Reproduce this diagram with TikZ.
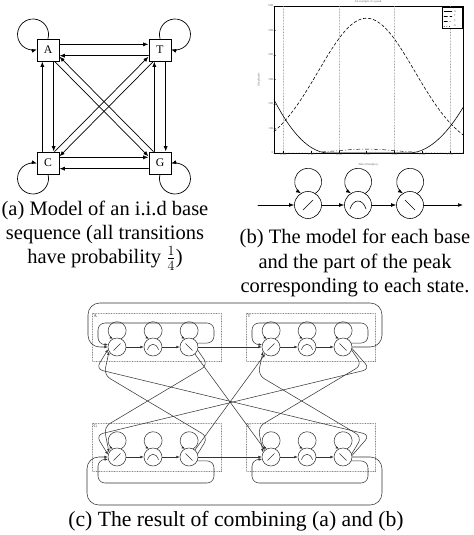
\documentclass[tikz,border=0pt]{standalone}
\usepackage{fontspec}
\setmainfont{Liberation Serif}
\usetikzlibrary{arrows.meta}

\begin{document}
\begin{tikzpicture}
  [x=0.3mm,y=0.3mm,line cap=round,
   basebox/.style={draw,thick,minimum size=6.6mm,inner sep=0pt,font=\fontsize{10}{12}\selectfont},
   link/.style={-{Latex[length=1.6mm,width=1.2mm]},line width=0.6pt},
   bigstate/.style={draw,circle,minimum size=8.1mm,inner sep=0pt,line width=0.5pt},
   smallstate/.style={draw,circle,minimum size=5.4mm,inner sep=0pt,line width=0.45pt,black!80},
   rise/.style={path picture={\draw ([shift={(-#1,-#1)}]path picture bounding box.center)
       -- ([shift={(#1,#1)}]path picture bounding box.center);}},
   fall/.style={path picture={\draw ([shift={(-#1,#1)}]path picture bounding box.center)
       -- ([shift={(#1,-#1)}]path picture bounding box.center);}},
   hump/.style={path picture={\draw ([shift={(-#1,-0.5*#1)}]path picture bounding box.center)
       .. controls ([shift={(-0.6*#1,0.83*#1)}]path picture bounding box.center)
       and ([shift={(0.6*#1,0.83*#1)}]path picture bounding box.center)
       .. ([shift={(#1,-0.5*#1)}]path picture bounding box.center);}},
   bigarrow/.style={-{Latex[length=1.5mm,width=1.1mm]},line width=0.5pt},
   hmmarrow/.style={-{Latex[length=1mm,width=0.8mm]},line width=0.45pt,black!80},
   groupbox/.style={densely dotted,black!50,line width=0.4pt},
   boxlabel/.style={font=\fontsize{4}{4}\selectfont,inner sep=1.2pt,black!80},
   plottext/.style={font=\fontsize{2.6}{3}\selectfont,inner sep=0.6pt,black!60},
   caption/.style={align=center,font=\fontsize{17.5}{20.5}\selectfont,inner sep=0pt}]
  \useasboundingbox (0,0) rectangle (474,535);

  % (a) las cuatro bases
  \node[basebox] (A) at (48,485) {A};
  \node[basebox] (T) at (160,485) {T};
  \node[basebox] (C) at (48,372) {C};
  \node[basebox] (G) at (160,372) {G};

  % transiciones en pares
  \draw[link] ([yshift=1.7mm]A.east) -- ([yshift=1.7mm]T.west);
  \draw[link] ([yshift=-1.7mm]T.west) -- ([yshift=-1.7mm]A.east);
  \draw[link] ([yshift=1.7mm]C.east) -- ([yshift=1.7mm]G.west);
  \draw[link] ([yshift=-1.7mm]G.west) -- ([yshift=-1.7mm]C.east);
  \draw[link] ([xshift=-1.7mm]C.north) -- ([xshift=-1.7mm]A.south);
  \draw[link] ([xshift=1.7mm]A.south) -- ([xshift=1.7mm]C.north);
  \draw[link] ([xshift=-1.7mm]G.north) -- ([xshift=-1.7mm]T.south);
  \draw[link] ([xshift=1.7mm]T.south) -- ([xshift=1.7mm]G.north);
  \draw[link] (A.-60) -- (G.150);
  \draw[link] (G.120) -- (A.-30);
  \draw[link] (C.60) -- (T.210);
  \draw[link] (T.240) -- (C.30);

  % bucles
  \draw[link] (A.north) arc[start angle=-15,end angle=285,radius=15.5];
  \draw[link] (T.north) arc[start angle=195,end angle=-105,radius=15.5];
  \draw[link] (C.south) arc[start angle=15,end angle=-285,radius=15.5];
  \draw[link] (G.south) arc[start angle=165,end angle=465,radius=15.5];

  \node[caption] (capa) at (105,299) {(a) Model of an i.i.d base\\sequence (all transitions\\have probability $\frac{1}{4}$)};

  % (b) el pico
  \draw[line width=0.4pt] (274,382) rectangle (463,529);
  \node[plottext] at (368,533) {An example of a peak};
  \node[plottext,rotate=90] at (259,455) {Amplitude};
  \node[plottext] at (368,370) {Time (Samples)};
  \begin{scope}[shift={(283,382)},xscale=13.92,yscale=0.245]
    \foreach \s in {0,4,8,12}
      \draw[densely dotted,black!40,line width=0.3pt] (\s,0) -- (\s,600);
    \foreach \s/\lab in {0/1720,2/1722,4/1724,6/1726,8/1728,10/1730,12/1732} {
      \draw[line width=0.3pt] (\s,0) -- (\s,8);
      \node[plottext,below] at (\s,0) {\lab};
    }
    \foreach \v in {0,100,...,600} {
      \draw[line width=0.3pt] (-0.647,\v) -- (-0.55,\v);
      \node[plottext,left] at (-0.647,\v) {\v};
    }
    \draw[line width=0.5pt,dash pattern=on 2.5pt off 1.8pt,domain=-0.647:12.93,samples=90]
      plot (\x,{550*exp(-(\x-6)*(\x-6)/24)});
    \draw[line width=0.5pt,domain=-0.647:12.93,samples=90]
      plot (\x,{14*max(0,3.3-\x)*max(0,3.3-\x)+12*max(0,\x-9)*max(0,\x-9)});
    \draw[line width=0.4pt,dash dot,domain=2.8:9.5,samples=40]
      plot (\x,{16*exp(-(\x-6)*(\x-6)/8)});
    \draw[line width=0.4pt,dotted,black!50,domain=-0.647:12.93,samples=40]
      plot (\x,{4*exp(-(\x-7)*(\x-7)/12)});
  \end{scope}
  \draw[line width=0.3pt,fill=white] (442,507) rectangle (462,528);
  \draw[line width=0.3pt] (444,524) -- (452,524); \node[plottext,right] at (453,524) {A};
  \draw[line width=0.3pt,densely dashed] (444,519) -- (452,519); \node[plottext,right] at (453,519) {T};
  \draw[line width=0.3pt,dash dot] (444,514) -- (452,514); \node[plottext,right] at (453,514) {C};
  \draw[line width=0.3pt,dotted] (444,509) -- (452,509); \node[plottext,right] at (453,509) {G};

  % estados de una base
  \node[bigstate,rise=5] (b1) at (308,330) {};
  \node[bigstate,hump=8] (b2) at (358,330) {};
  \node[bigstate,fall=5] (b3) at (410,330) {};
  \coordinate (bin) at (258,330);
  \coordinate (bout) at (463,330);
  \draw[bigarrow] (bin) -- (b1);
  \draw[bigarrow] (b1) -- (b2);
  \draw[bigarrow] (b2) -- (b3);
  \draw[bigarrow] (b3) -- (bout);
  \foreach \n in {b1,b2,b3}
    \draw[bigarrow] (\n.58) arc[start angle=-58,end angle=238,radius=13.5];

  \node[caption] (capb) at (355,272) {(b) The model for each base\\and the part of the peak\\corresponding to each state.};

  % (c) modelo combinado
  \foreach \g/\x/\y in {A/117/188,T/271/188,G/117/78,C/271/78} {
    \draw[groupbox] (\x-25,\y-14) rectangle (\x+104,\y+34);
    \node[boxlabel,anchor=north west] at (\x-25,\y+34) {\g};
    \node[smallstate,rise=3.5] (\g1) at (\x,\y) {};
    \node[smallstate,hump=5.5] (\g2) at (\x+36,\y) {};
    \node[smallstate,fall=3.5] (\g3) at (\x+72,\y) {};
    \draw[hmmarrow] (\g1) -- (\g2);
    \draw[hmmarrow] (\g2) -- (\g3);
    \foreach \n in {1,2,3}
      \draw[hmmarrow] (\g\n.63) arc[start angle=-63,end angle=243,radius=9];
  }

  % transiciones entre bases
  \draw[hmmarrow] (A3) -- (T1);
  \draw[hmmarrow] (G3) -- (C1);
  \draw[hmmarrow] (A3.-50) -- (C1.130);
  \draw[hmmarrow] (G3.50) -- (T1.230);
  \begin{scope}[rounded corners=6]
    \draw[hmmarrow] (A3.25) -| (214,212) -- (98,212) |- (A1.165);
    \draw[hmmarrow] (T3.25) -| (368,212) -- (252,212) |- (T1.165);
    \draw[hmmarrow] (G3.-25) -| (214,52) -- (98,52) |- (G1.195);
    \draw[hmmarrow] (C3.-25) -| (368,52) -- (252,52) |- (C1.195);
    \draw[hmmarrow] (A3.-20) -- (208,170) -- (104,108) -- (G1.150);
    \draw[hmmarrow] (G3.20) -- (208,98) -- (104,160) -- (A1.210);
    \draw[hmmarrow] (T3.-20) -- (362,170) -- (258,108) -- (C1.150);
    \draw[hmmarrow] (C3.20) -- (362,98) -- (258,160) -- (T1.210);
    \draw[hmmarrow] (T3.-10) -- (370,166) -- (96,100) -- (G1.165);
    \draw[hmmarrow] (C3.10) -- (370,100) -- (96,166) -- (A1.195);
  \end{scope}
  \begin{scope}[rounded corners=10]
    \draw[hmmarrow] (T3.east) -| (382,232) -- (88,232) |- (A1.west);
    \draw[hmmarrow] (C3.east) -| (382,30) -- (87,30) |- (G1.west);
  \end{scope}

  \node[caption,font=\fontsize{18.5}{21}\selectfont] (capc) at (236,14) {(c) The result of combining (a) and (b)};
\end{tikzpicture}
\end{document}
